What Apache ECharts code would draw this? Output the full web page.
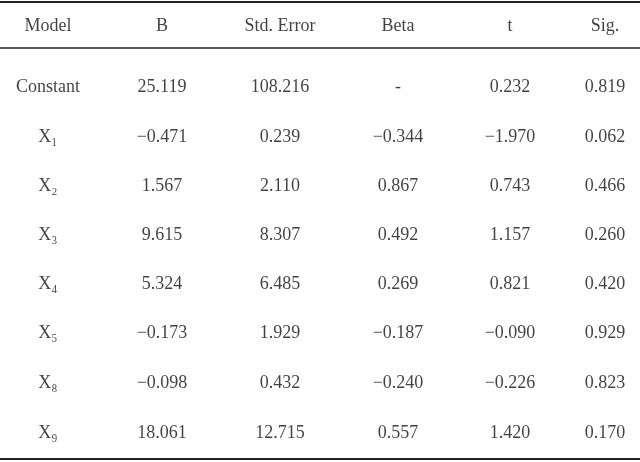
<!DOCTYPE html>
<html>
<head>
<meta charset="utf-8">
<script src="https://cdn.jsdelivr.net/npm/echarts@6/dist/echarts.min.js"></script>
<style>html,body{margin:0;padding:0;background:#fff}#main{width:640px;height:462px}</style>
</head>
<body>
<div id="main"></div>
<script>
var headers = ['Model', 'B', 'Std. Error', 'Beta', 't', 'Sig.'];
var models = ['Constant', 'X₁', 'X₂', 'X₃', 'X₄', 'X₅', 'X₈', 'X₉'];
var colB = ['25.119', '−0.471', '1.567', '9.615', '5.324', '−0.173', '−0.098', '18.061'];
var colStdError = ['108.216', '0.239', '2.110', '8.307', '6.485', '1.929', '0.432', '12.715'];
var colBeta = ['-', '−0.344', '0.867', '0.492', '0.269', '−0.187', '−0.240', '0.557'];
var colT = ['0.232', '−1.970', '0.743', '1.157', '0.821', '−0.090', '−0.226', '1.420'];
var colSig = ['0.819', '0.062', '0.466', '0.260', '0.420', '0.929', '0.823', '0.170'];

// layout of the table (pixel space of the grid)
var colX = [48, 162, 280, 398, 510, 605];
var headerY = 26;
var rowY = [87, 137, 186, 235, 284, 333, 383, 433];

var columns = [models, colB, colStdError, colBeta, colT, colSig];
var cells = [];
headers.forEach(function (h, c) {
    cells.push({ value: [colX[c], headerY], name: h });
});
columns.forEach(function (col, c) {
    col.forEach(function (v, r) {
        cells.push({ value: [colX[c], rowY[r]], name: v });
    });
});

var myChart = echarts.init(document.getElementById('main'));
var option = {
    backgroundColor: '#fff',
    animation: false,
    grid: { left: 0, right: 0, top: 0, bottom: 0 },
    xAxis: { type: 'value', min: 0, max: 640, show: false },
    yAxis: { type: 'value', min: 0, max: 462, inverse: true, show: false },
    graphic: [
        { type: 'line', shape: { x1: 0, y1: 2, x2: 640, y2: 2 }, style: { stroke: '#222', lineWidth: 2 } },
        { type: 'line', shape: { x1: 0, y1: 48, x2: 640, y2: 48 }, style: { stroke: '#222', lineWidth: 1.5 } },
        { type: 'line', shape: { x1: 0, y1: 459, x2: 640, y2: 459 }, style: { stroke: '#222', lineWidth: 2 } }
    ],
    series: [{
        type: 'scatter',
        symbolSize: 0,
        data: cells,
        label: {
            show: true,
            position: 'inside',
            formatter: function (p) { return p.name; },
            fontFamily: 'Liberation Serif',
            fontSize: 18,
            color: '#111'
        }
    }]
};
myChart.setOption(option);
</script>
</body>
</html>
